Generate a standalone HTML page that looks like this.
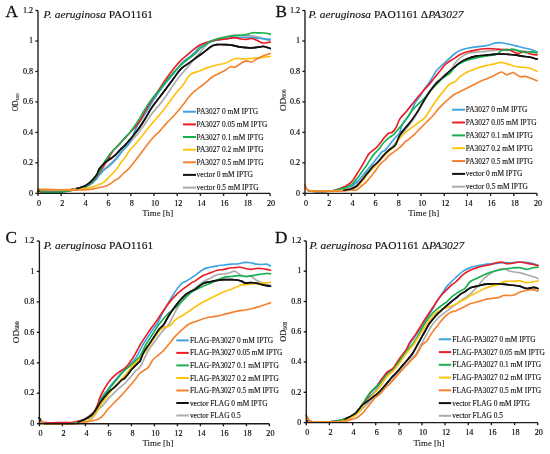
<!DOCTYPE html><html><head><meta charset="utf-8"><style>html,body{margin:0;padding:0;background:#fff;}svg{display:block;font-family:"Liberation Serif",serif;filter:blur(0.35px);}</style></head><body>
<svg width="550" height="454" viewBox="0 0 550 454">
<clipPath id="clipA"><rect x="76.3" y="0" width="300" height="454"/><rect x="33.0" y="0" width="6.5" height="454"/></clipPath>
<g fill="none" stroke-width="1.65" stroke-linejoin="round" stroke-linecap="round">
<path stroke="#111111" d="M38.00 191.00 C41.33 190.98 53.67 190.98 58.00 190.90 C62.33 190.82 62.00 190.70 64.00 190.50 C66.00 190.30 68.17 189.97 70.00 189.70 C71.83 189.43 73.33 189.22 75.00 188.90 C76.67 188.58 78.65 188.18 80.00 187.80 C81.35 187.42 82.07 187.05 83.10 186.60 C84.13 186.15 85.17 185.72 86.20 185.10 C87.23 184.48 88.28 183.73 89.30 182.90 C90.32 182.07 91.28 181.18 92.30 180.10 C93.32 179.02 94.57 177.48 95.40 176.40 C96.23 175.32 96.78 174.57 97.30 173.60 C97.82 172.63 98.05 171.52 98.50 170.60 C98.95 169.68 98.92 169.43 100.00 168.10 C101.08 166.77 103.71 163.86 105.00 162.63 C106.29 161.40 106.84 161.35 107.75 160.70 C108.67 160.06 109.59 159.46 110.51 158.77 C111.43 158.09 112.35 157.30 113.26 156.57 C114.18 155.84 115.10 155.24 116.02 154.37 C116.94 153.49 117.86 152.35 118.77 151.34 C119.69 150.33 120.61 149.18 121.53 148.31 C122.45 147.43 123.16 147.24 124.28 146.10 C125.41 144.97 127.33 142.60 128.28 141.50 C129.24 140.40 128.50 141.34 130.00 139.52 C131.50 137.71 134.85 133.91 137.27 130.61 C139.70 127.30 142.12 123.54 144.55 119.70 C146.97 115.86 149.39 111.21 151.82 107.58 C154.24 103.94 156.67 101.11 159.09 97.88 C161.52 94.65 163.94 91.41 166.36 88.18 C168.79 84.95 171.21 81.72 173.64 78.48 C176.06 75.25 178.18 71.48 180.91 68.79 C183.64 66.10 187.31 64.29 190.00 62.33 C192.69 60.37 194.56 58.86 197.05 57.04 C199.55 55.21 202.64 53.16 204.99 51.39 C207.34 49.63 209.25 47.57 211.16 46.46 C213.07 45.34 214.10 44.99 216.46 44.69 C218.81 44.40 222.33 44.54 225.27 44.69 C228.21 44.84 231.74 45.22 234.09 45.57 C236.44 45.93 236.44 46.43 239.38 46.81 C242.32 47.19 248.20 47.87 251.73 47.87 C255.26 47.87 258.49 47.04 260.55 46.81 C262.60 46.57 262.46 46.16 264.07 46.46 C265.69 46.75 269.22 48.22 270.25 48.57"/>
<path stroke="#ababab" d="M38.00 190.82 C41.33 190.82 53.67 190.84 58.00 190.80 C62.33 190.76 62.00 190.73 64.00 190.60 C66.00 190.47 68.17 190.23 70.00 190.00 C71.83 189.77 73.33 189.50 75.00 189.20 C76.67 188.90 78.65 188.55 80.00 188.20 C81.35 187.85 82.07 187.47 83.10 187.10 C84.13 186.73 84.67 186.93 86.20 186.00 C87.73 185.07 90.50 183.17 92.30 181.50 C94.10 179.83 95.72 177.58 97.00 176.00 C98.28 174.42 98.67 173.31 100.00 172.00 C101.33 170.69 103.25 169.52 105.00 168.14 C106.75 166.76 108.67 165.43 110.51 163.73 C112.35 162.03 114.18 160.11 116.02 157.95 C117.86 155.79 120.03 152.58 121.53 150.79 C123.03 148.99 123.59 148.64 125.00 147.20 C126.41 145.77 127.95 144.32 130.00 142.16 C132.05 140.00 134.85 137.18 137.27 134.24 C139.70 131.31 142.12 127.98 144.55 124.55 C146.97 121.11 149.39 116.87 151.82 113.64 C154.24 110.40 156.67 108.18 159.09 105.15 C161.52 102.12 163.94 98.89 166.36 95.45 C168.79 92.02 171.21 87.98 173.64 84.55 C176.06 81.11 178.48 77.88 180.91 74.85 C183.33 71.82 185.76 69.19 188.18 66.36 C190.61 63.54 192.21 61.64 195.45 57.88 C198.70 54.12 204.14 46.89 207.64 43.81 C211.14 40.73 213.52 40.58 216.46 39.40 C219.39 38.22 222.33 37.49 225.27 36.75 C228.21 36.02 231.15 35.20 234.09 34.99 C237.03 34.79 239.97 35.37 242.91 35.52 C245.85 35.67 248.79 35.52 251.73 35.87 C254.67 36.23 257.46 36.81 260.55 37.64 C263.63 38.46 268.63 40.28 270.25 40.81"/>
<path stroke="#3ea3e2" d="M38.00 191.00 C41.33 191.00 53.67 191.02 58.00 191.00 C62.33 190.98 62.00 191.00 64.00 190.90 C66.00 190.80 68.17 190.60 70.00 190.40 C71.83 190.20 73.33 190.00 75.00 189.70 C76.67 189.40 78.65 188.92 80.00 188.60 C81.35 188.28 82.07 188.07 83.10 187.80 C84.13 187.53 84.67 187.80 86.20 187.00 C87.73 186.20 90.67 184.25 92.30 183.00 C93.93 181.75 94.97 180.65 96.00 179.50 C97.03 178.35 97.83 176.97 98.50 176.10 C99.17 175.23 98.92 175.44 100.00 174.30 C101.08 173.16 103.25 170.82 105.00 169.24 C106.75 167.66 108.67 166.49 110.51 164.83 C112.35 163.18 114.18 161.44 116.02 159.33 C117.86 157.21 120.03 154.00 121.53 152.16 C123.03 150.33 123.59 149.97 125.00 148.31 C126.41 146.64 127.95 145.92 130.00 142.16 C132.05 138.40 134.85 130.31 137.27 125.76 C139.70 121.21 142.12 118.69 144.55 114.85 C146.97 111.01 149.39 106.57 151.82 102.73 C154.24 98.89 156.67 95.25 159.09 91.82 C161.52 88.38 163.94 85.15 166.36 82.12 C168.79 79.09 171.21 76.67 173.64 73.64 C176.06 70.61 178.48 66.57 180.91 63.94 C183.33 61.31 185.76 59.90 188.18 57.88 C190.61 55.86 193.68 53.58 195.45 51.82 C197.23 50.06 196.79 48.82 198.82 47.34 C200.85 45.86 204.70 44.10 207.64 42.93 C210.58 41.75 213.52 40.93 216.46 40.28 C219.39 39.64 222.33 39.49 225.27 39.05 C228.21 38.61 231.15 37.93 234.09 37.64 C237.03 37.34 239.97 37.28 242.91 37.28 C245.85 37.28 248.79 37.43 251.73 37.64 C254.67 37.84 257.46 38.22 260.55 38.52 C263.63 38.81 268.63 39.25 270.25 39.40"/>
<path stroke="#ec1c24" d="M38.00 191.36 C38.91 191.48 40.12 191.95 43.45 192.09 C46.79 192.23 54.58 192.28 58.00 192.20 C61.42 192.12 62.00 191.85 64.00 191.60 C66.00 191.35 68.17 191.02 70.00 190.70 C71.83 190.38 73.33 190.07 75.00 189.70 C76.67 189.33 78.65 188.87 80.00 188.50 C81.35 188.13 82.07 187.87 83.10 187.50 C84.13 187.13 85.17 186.87 86.20 186.30 C87.23 185.73 88.28 184.87 89.30 184.10 C90.32 183.33 91.28 182.67 92.30 181.70 C93.32 180.73 94.47 179.43 95.40 178.30 C96.33 177.17 97.13 175.98 97.90 174.90 C98.67 173.82 98.82 173.62 100.00 171.80 C101.18 169.98 103.71 166.00 105.00 164.01 C106.29 162.02 106.84 161.44 107.75 159.88 C108.67 158.31 109.59 156.20 110.51 154.64 C111.43 153.08 112.35 151.70 113.26 150.51 C114.18 149.32 112.02 151.81 116.02 147.48 C120.02 143.15 132.52 130.39 137.27 124.55 C142.03 118.70 142.12 116.46 144.55 112.42 C146.97 108.38 149.39 104.14 151.82 100.30 C154.24 96.46 156.67 93.03 159.09 89.39 C161.52 85.76 163.94 81.92 166.36 78.48 C168.79 75.05 171.21 71.82 173.64 68.79 C176.06 65.76 178.18 63.00 180.91 60.30 C183.64 57.61 187.02 55.08 190.00 52.63 C192.98 50.17 195.88 47.34 198.82 45.57 C201.76 43.81 204.70 42.99 207.64 42.05 C210.58 41.11 213.52 40.43 216.46 39.93 C219.39 39.43 222.33 39.43 225.27 39.05 C228.21 38.67 231.45 37.64 234.09 37.64 C236.74 37.64 239.09 38.75 241.15 39.05 C243.20 39.34 244.67 39.49 246.44 39.40 C248.20 39.31 249.96 38.37 251.73 38.52 C253.49 38.67 255.26 39.55 257.02 40.28 C258.78 41.02 260.55 42.55 262.31 42.93 C264.07 43.31 266.28 42.72 267.60 42.57 C268.92 42.43 269.81 42.13 270.25 42.05"/>
<path stroke="#17b04f" d="M38.00 188.64 C38.91 189.21 40.12 191.50 43.45 192.09 C46.79 192.68 54.58 192.27 58.00 192.20 C61.42 192.13 62.00 191.95 64.00 191.70 C66.00 191.45 68.17 191.05 70.00 190.70 C71.83 190.35 73.33 189.98 75.00 189.60 C76.67 189.22 78.65 188.77 80.00 188.40 C81.35 188.03 82.07 187.77 83.10 187.40 C84.13 187.03 84.67 187.18 86.20 186.20 C87.73 185.22 90.50 183.28 92.30 181.50 C94.10 179.72 95.72 177.28 97.00 175.50 C98.28 173.72 98.67 173.22 100.00 170.80 C101.33 168.38 103.71 163.26 105.00 160.98 C106.29 158.70 106.84 158.41 107.75 157.12 C108.67 155.84 109.59 154.41 110.51 153.26 C111.43 152.12 112.35 151.15 113.26 150.23 C114.18 149.32 115.10 148.63 116.02 147.75 C116.94 146.88 117.83 146.04 118.77 145.00 C119.72 143.96 120.54 142.85 121.68 141.50 C122.83 140.15 124.26 138.42 125.64 136.88 C127.03 135.34 128.06 134.72 130.00 132.26 C131.94 129.80 134.85 125.83 137.27 122.12 C139.70 118.41 142.12 113.84 144.55 110.00 C146.97 106.16 149.39 102.32 151.82 99.09 C154.24 95.86 156.67 93.64 159.09 90.61 C161.52 87.58 163.94 83.94 166.36 80.91 C168.79 77.88 171.21 75.05 173.64 72.42 C176.06 69.80 178.48 67.37 180.91 65.15 C183.33 62.93 185.78 61.03 188.18 59.09 C190.58 57.15 193.22 55.32 195.29 53.51 C197.36 51.70 198.52 49.98 200.58 48.22 C202.64 46.46 204.99 44.46 207.64 42.93 C210.28 41.40 213.52 39.99 216.46 39.05 C219.39 38.11 222.33 37.81 225.27 37.28 C228.21 36.75 231.15 36.26 234.09 35.87 C237.03 35.49 240.56 35.29 242.91 34.99 C245.26 34.70 246.58 34.49 248.20 34.11 C249.82 33.73 251.14 32.90 252.61 32.70 C254.08 32.49 255.11 32.82 257.02 32.87 C258.93 32.93 261.87 32.85 264.07 33.05 C266.28 33.26 269.22 33.93 270.25 34.11"/>
<path stroke="#fdc20e" d="M38.00 189.55 C41.33 189.59 53.67 189.77 58.00 189.80 C62.33 189.83 62.00 189.73 64.00 189.70 C66.00 189.67 68.17 189.65 70.00 189.60 C71.83 189.55 73.33 189.48 75.00 189.40 C76.67 189.32 78.65 189.20 80.00 189.10 C81.35 189.00 82.07 188.90 83.10 188.80 C84.13 188.70 85.17 188.67 86.20 188.50 C87.23 188.33 88.28 188.07 89.30 187.80 C90.32 187.53 91.28 187.20 92.30 186.90 C93.32 186.60 94.37 186.35 95.40 186.00 C96.43 185.65 97.73 185.12 98.50 184.80 C99.27 184.48 99.07 184.56 100.00 184.10 C100.93 183.64 102.80 183.01 104.09 182.06 C105.38 181.11 106.52 179.64 107.73 178.42 C108.94 177.21 109.98 176.19 111.36 174.79 C112.75 173.39 114.51 171.95 116.02 170.01 C117.53 168.08 118.93 165.24 120.43 163.18 C121.92 161.12 123.40 159.86 125.00 157.67 C126.60 155.49 127.55 153.18 130.00 150.08 C132.45 146.99 136.87 142.54 139.70 139.09 C142.53 135.64 144.55 132.42 146.97 129.39 C149.39 126.36 151.82 123.74 154.24 120.91 C156.67 118.08 159.09 115.45 161.52 112.42 C163.94 109.39 166.36 105.96 168.79 102.73 C171.21 99.49 173.64 96.06 176.06 93.03 C178.48 90.00 181.01 87.60 183.33 84.55 C185.66 81.49 187.42 76.91 190.00 74.67 C192.58 72.44 195.88 72.32 198.82 71.15 C201.76 69.97 204.70 68.65 207.64 67.62 C210.58 66.59 213.52 65.71 216.46 64.97 C219.39 64.24 222.63 64.09 225.27 63.21 C227.92 62.33 230.56 60.48 232.33 59.68 C234.09 58.89 234.09 58.59 235.86 58.45 C237.62 58.30 240.26 58.80 242.91 58.80 C245.56 58.80 248.79 58.65 251.73 58.45 C254.67 58.24 258.20 57.80 260.55 57.57 C262.90 57.33 264.22 57.21 265.84 57.04 C267.45 56.86 269.51 56.60 270.25 56.51"/>
<path stroke="#f5822f" d="M38.00 189.36 C41.33 189.44 53.67 189.73 58.00 189.80 C62.33 189.87 62.00 189.77 64.00 189.80 C66.00 189.83 68.17 189.97 70.00 190.00 C71.83 190.03 73.33 190.00 75.00 190.00 C76.67 190.00 78.65 190.02 80.00 190.00 C81.35 189.98 82.07 189.95 83.10 189.90 C84.13 189.85 84.67 189.83 86.20 189.70 C87.73 189.57 90.77 189.30 92.30 189.10 C93.83 188.90 94.37 188.72 95.40 188.50 C96.43 188.28 97.73 187.97 98.50 187.80 C99.27 187.63 98.87 187.75 100.00 187.50 C101.13 187.25 103.61 186.91 105.30 186.30 C106.99 185.70 108.54 184.89 110.15 183.88 C111.77 182.87 113.52 181.25 115.00 180.24 C116.48 179.23 117.49 179.09 119.04 177.81 C120.60 176.52 122.50 174.28 124.32 172.52 C126.15 170.76 125.42 172.82 130.00 167.24 C134.58 161.67 146.97 145.00 151.82 139.09 C156.67 133.19 156.67 134.44 159.09 131.82 C161.52 129.19 163.94 125.96 166.36 123.33 C168.79 120.71 171.21 118.69 173.64 116.06 C176.06 113.43 178.18 110.95 180.91 107.58 C183.64 104.21 187.60 98.68 190.00 95.84 C192.40 93.00 193.23 92.31 195.29 90.55 C197.35 88.78 200.29 86.87 202.35 85.26 C204.40 83.64 205.87 82.32 207.64 80.85 C209.40 79.38 210.87 77.76 212.93 76.44 C214.99 75.11 217.92 73.94 219.98 72.91 C222.04 71.88 223.51 71.29 225.27 70.26 C227.04 69.24 228.95 67.24 230.56 66.74 C232.18 66.24 233.21 67.85 234.97 67.27 C236.74 66.68 239.24 64.27 241.15 63.21 C243.06 62.15 244.67 61.12 246.44 60.92 C248.20 60.71 249.96 62.33 251.73 61.98 C253.49 61.62 255.26 59.77 257.02 58.80 C258.78 57.83 260.55 56.89 262.31 56.16 C264.07 55.42 266.28 54.83 267.60 54.39 C268.92 53.95 269.81 53.66 270.25 53.51"/>
<path stroke="#111111" clip-path="url(#clipA)" d="M38.00 191.00 C41.33 190.98 53.67 190.98 58.00 190.90 C62.33 190.82 62.00 190.70 64.00 190.50 C66.00 190.30 68.17 189.97 70.00 189.70 C71.83 189.43 73.33 189.22 75.00 188.90 C76.67 188.58 78.65 188.18 80.00 187.80 C81.35 187.42 82.07 187.05 83.10 186.60 C84.13 186.15 85.17 185.72 86.20 185.10 C87.23 184.48 88.28 183.73 89.30 182.90 C90.32 182.07 91.28 181.18 92.30 180.10 C93.32 179.02 94.57 177.48 95.40 176.40 C96.23 175.32 96.78 174.57 97.30 173.60 C97.82 172.63 98.05 171.52 98.50 170.60 C98.95 169.68 98.92 169.43 100.00 168.10 C101.08 166.77 103.71 163.86 105.00 162.63 C106.29 161.40 106.84 161.35 107.75 160.70 C108.67 160.06 109.59 159.46 110.51 158.77 C111.43 158.09 112.35 157.30 113.26 156.57 C114.18 155.84 115.10 155.24 116.02 154.37 C116.94 153.49 117.86 152.35 118.77 151.34 C119.69 150.33 120.61 149.18 121.53 148.31 C122.45 147.43 123.16 147.24 124.28 146.10 C125.41 144.97 127.33 142.60 128.28 141.50 C129.24 140.40 128.50 141.34 130.00 139.52 C131.50 137.71 134.85 133.91 137.27 130.61 C139.70 127.30 142.12 123.54 144.55 119.70 C146.97 115.86 149.39 111.21 151.82 107.58 C154.24 103.94 156.67 101.11 159.09 97.88 C161.52 94.65 163.94 91.41 166.36 88.18 C168.79 84.95 171.21 81.72 173.64 78.48 C176.06 75.25 178.18 71.48 180.91 68.79 C183.64 66.10 187.31 64.29 190.00 62.33 C192.69 60.37 194.56 58.86 197.05 57.04 C199.55 55.21 202.64 53.16 204.99 51.39 C207.34 49.63 209.25 47.57 211.16 46.46 C213.07 45.34 214.10 44.99 216.46 44.69 C218.81 44.40 222.33 44.54 225.27 44.69 C228.21 44.84 231.74 45.22 234.09 45.57 C236.44 45.93 236.44 46.43 239.38 46.81 C242.32 47.19 248.20 47.87 251.73 47.87 C255.26 47.87 258.49 47.04 260.55 46.81 C262.60 46.57 262.46 46.16 264.07 46.46 C265.69 46.75 269.22 48.22 270.25 48.57"/>
</g>
<g stroke="#1a1a1a" stroke-width="1.35" fill="none">
<path d="M38.0 10.5 V193.3 H270.0"/>
<path d="M35.4 193.3 H38.0"/>
<path d="M35.4 162.8 H38.0"/>
<path d="M35.4 132.4 H38.0"/>
<path d="M35.4 101.9 H38.0"/>
<path d="M35.4 71.4 H38.0"/>
<path d="M35.4 41.0 H38.0"/>
<path d="M35.4 10.5 H38.0"/>
<path d="M38.0 193.3 V195.9"/>
<path d="M61.2 193.3 V195.9"/>
<path d="M84.4 193.3 V195.9"/>
<path d="M107.6 193.3 V195.9"/>
<path d="M130.8 193.3 V195.9"/>
<path d="M154.0 193.3 V195.9"/>
<path d="M177.2 193.3 V195.9"/>
<path d="M200.4 193.3 V195.9"/>
<path d="M223.6 193.3 V195.9"/>
<path d="M246.8 193.3 V195.9"/>
<path d="M270.0 193.3 V195.9"/>
</g>
<g font-size="8.1" fill="#000" stroke="#000" stroke-width="0.15" text-anchor="end">
<text x="33.0" y="195.5">0</text>
<text x="33.0" y="165.0">0.2</text>
<text x="33.0" y="134.5">0.4</text>
<text x="33.0" y="104.0">0.6</text>
<text x="33.0" y="73.6">0.8</text>
<text x="33.0" y="43.1">1</text>
<text x="33.0" y="12.6">1.2</text>
</g>
<g font-size="8.1" fill="#000" stroke="#000" stroke-width="0.15" text-anchor="middle">
<text x="39.0" y="205.5">0</text>
<text x="62.2" y="205.5">2</text>
<text x="85.4" y="205.5">4</text>
<text x="108.6" y="205.5">6</text>
<text x="131.8" y="205.5">8</text>
<text x="155.0" y="205.5">10</text>
<text x="178.2" y="205.5">12</text>
<text x="201.4" y="205.5">14</text>
<text x="224.6" y="205.5">16</text>
<text x="247.8" y="205.5">18</text>
<text x="271.0" y="205.5">20</text>
</g>
<text x="157.7" y="216.0" font-size="8.9" fill="#111" stroke="#111" stroke-width="0.08" text-anchor="middle">Time [h]</text>
<text transform="translate(18.2 102.3) rotate(-90)" font-size="7.60" fill="#111" stroke="#111" stroke-width="0.1" text-anchor="middle">OD<tspan font-size="4.79" dy="0.38">600</tspan></text>
<text transform="translate(5.6 16.6) scale(1 1.03)" font-size="17.2" fill="#111" stroke="#111" stroke-width="0.25">A</text>
<text x="43.5" y="18.2" font-size="11.4" fill="#111" stroke="#111" stroke-width="0.15"><tspan font-style="italic">P. aeruginosa</tspan> PAO1161</text>
<g font-size="7.4" fill="#111" stroke="#111" stroke-width="0.12">
<path d="M183.0 111.7 H196.0" stroke="#3ea3e2" stroke-width="2"/>
<text x="196.5" y="114.2">PA3027 0 mM IPTG</text>
<path d="M183.0 124.4 H196.0" stroke="#ec1c24" stroke-width="2"/>
<text x="196.5" y="126.9">PA3027 0.05 mM IPTG</text>
<path d="M183.0 137.0 H196.0" stroke="#17b04f" stroke-width="2"/>
<text x="196.5" y="139.5">PA3027 0.1 mM IPTG</text>
<path d="M183.0 149.7 H196.0" stroke="#fdc20e" stroke-width="2"/>
<text x="196.5" y="152.2">PA3027 0.2 mM IPTG</text>
<path d="M183.0 162.3 H196.0" stroke="#f5822f" stroke-width="2"/>
<text x="196.5" y="164.8">PA3027 0.5 mM IPTG</text>
<path d="M183.0 174.9 H196.0" stroke="#111111" stroke-width="2"/>
<text x="196.5" y="177.4">vector 0 mM IPTG</text>
<path d="M183.0 187.6 H196.0" stroke="#ababab" stroke-width="2"/>
<text x="196.5" y="190.1">vector 0.5 mM IPTG</text>
</g>
<clipPath id="clipB"><rect x="343.3" y="0" width="300" height="454"/><rect x="300.0" y="0" width="6.5" height="454"/></clipPath>
<g fill="none" stroke-width="1.65" stroke-linejoin="round" stroke-linecap="round">
<path stroke="#111111" d="M308.64 191.00 C311.06 191.06 317.73 191.45 323.18 191.36 C328.64 191.27 336.72 190.84 341.36 190.45 C346.00 190.07 348.49 189.73 351.02 189.04 C353.55 188.34 355.09 187.33 356.53 186.28 C357.96 185.24 358.60 183.93 359.63 182.77 C360.66 181.60 361.55 180.71 362.71 179.30 C363.87 177.88 365.28 175.89 366.57 174.29 C367.85 172.68 369.26 171.07 370.42 169.66 C371.58 168.25 372.48 166.83 373.50 165.81 C374.53 164.78 375.43 164.58 376.59 163.49 C377.74 162.40 379.16 160.73 380.44 159.25 C381.73 157.77 382.93 156.09 384.30 154.63 C385.66 153.16 387.31 151.60 388.64 150.45 C389.97 149.30 391.06 148.79 392.27 147.73 C393.48 146.67 394.62 146.24 395.91 144.09 C397.20 141.94 398.29 137.65 400.00 134.81 C401.71 131.98 404.12 129.67 406.17 127.10 C408.23 124.53 410.29 122.21 412.35 119.38 C414.40 116.55 416.46 113.47 418.52 110.12 C420.58 106.78 422.63 102.66 424.69 99.32 C426.75 95.98 428.81 92.89 430.86 90.06 C432.92 87.23 435.24 84.27 437.04 82.35 C438.84 80.42 439.38 80.55 441.67 78.49 C443.95 76.43 448.54 71.96 450.76 70.00 C452.98 68.04 453.41 68.02 455.00 66.74 C456.59 65.46 458.23 63.65 460.29 62.33 C462.35 61.01 464.70 59.83 467.35 58.80 C469.99 57.77 473.22 56.74 476.16 56.16 C479.10 55.57 482.04 55.57 484.98 55.27 C487.92 54.98 491.16 54.60 493.80 54.39 C496.45 54.19 498.50 54.04 500.86 54.04 C503.21 54.04 505.56 54.24 507.91 54.39 C510.26 54.54 512.61 54.63 514.96 54.92 C517.32 55.21 519.67 55.80 522.02 56.16 C524.37 56.51 526.58 56.54 529.07 57.04 C531.57 57.54 535.69 58.80 537.01 59.15"/>
<path stroke="#ababab" d="M308.64 191.00 C311.06 191.06 317.73 191.45 323.18 191.36 C328.64 191.27 336.82 191.06 341.36 190.45 C345.91 189.85 348.03 188.85 350.45 187.73 C352.88 186.61 354.38 184.68 355.91 183.73 C357.44 182.77 358.49 182.93 359.63 182.00 C360.76 181.07 361.55 179.62 362.71 178.14 C363.87 176.66 365.28 174.74 366.57 173.13 C367.85 171.52 369.14 169.85 370.42 168.50 C371.71 167.15 372.99 166.32 374.28 165.03 C375.56 163.75 376.85 162.27 378.13 160.79 C379.42 159.32 380.84 157.29 381.99 156.17 C383.13 155.05 383.29 155.65 385.00 154.09 C386.71 152.53 389.77 149.77 392.27 146.82 C394.77 143.86 397.68 139.39 400.00 136.36 C402.32 133.33 404.12 131.21 406.17 128.64 C408.23 126.07 410.55 123.50 412.35 120.93 C414.15 118.35 415.43 115.78 416.98 113.21 C418.52 110.64 419.80 108.58 421.60 105.49 C423.41 102.41 425.72 97.78 427.78 94.69 C429.84 91.60 431.89 89.55 433.95 86.98 C436.01 84.40 438.32 81.32 440.12 79.26 C441.92 77.20 443.11 75.92 444.75 74.63 C446.40 73.34 448.29 73.45 450.00 71.54 C451.71 69.64 453.28 65.48 455.00 63.21 C456.72 60.94 458.23 59.54 460.29 57.92 C462.35 56.30 464.70 54.48 467.35 53.51 C469.99 52.54 473.22 52.45 476.16 52.10 C479.10 51.75 482.04 51.69 484.98 51.39 C487.92 51.10 491.16 50.63 493.80 50.34 C496.45 50.04 498.50 49.75 500.86 49.63 C503.21 49.51 505.56 49.51 507.91 49.63 C510.26 49.75 512.61 50.04 514.96 50.34 C517.32 50.63 519.67 51.16 522.02 51.39 C524.37 51.63 526.58 51.54 529.07 51.75 C531.57 51.95 535.69 52.48 537.01 52.63"/>
<path stroke="#3ea3e2" d="M308.64 191.00 C311.06 191.06 317.73 191.55 323.18 191.36 C328.64 191.18 337.09 190.39 341.36 189.91 C345.64 189.43 346.54 189.61 348.82 188.48 C351.09 187.36 353.33 184.56 355.00 183.15 C356.67 181.75 357.57 181.35 358.86 180.07 C360.14 178.78 361.43 176.99 362.71 175.44 C364.00 173.90 365.28 172.36 366.57 170.82 C367.85 169.28 369.14 167.73 370.42 166.19 C371.71 164.65 372.99 163.17 374.28 161.57 C375.56 159.96 376.85 158.16 378.13 156.55 C379.42 154.95 380.84 152.94 381.99 151.93 C383.13 150.91 383.89 151.46 385.00 150.45 C386.11 149.45 387.42 147.42 388.64 145.91 C389.85 144.39 391.06 142.88 392.27 141.36 C393.48 139.85 394.70 138.18 395.91 136.82 C397.12 135.45 398.48 135.23 399.55 133.18 C400.61 131.14 400.65 127.62 402.27 124.55 C403.89 121.47 407.58 117.41 409.26 114.75 C410.94 112.09 411.32 110.64 412.35 108.58 C413.37 106.52 414.15 104.47 415.43 102.41 C416.72 100.35 418.52 98.55 420.06 96.23 C421.60 93.92 423.15 90.83 424.69 88.52 C426.23 86.20 427.78 84.66 429.32 82.35 C430.86 80.03 432.66 76.69 433.95 74.63 C435.24 72.57 435.04 72.19 437.04 70.00 C439.03 67.81 442.92 64.26 445.91 61.52 C448.90 58.77 452.60 55.37 455.00 53.51 C457.40 51.65 458.23 51.22 460.29 50.34 C462.35 49.45 464.70 48.81 467.35 48.22 C469.99 47.63 473.22 47.19 476.16 46.81 C479.10 46.43 482.63 46.28 484.98 45.93 C487.33 45.57 488.80 45.13 490.27 44.69 C491.74 44.25 492.33 43.63 493.80 43.28 C495.27 42.93 497.33 42.57 499.09 42.57 C500.86 42.57 502.33 42.93 504.38 43.28 C506.44 43.63 509.09 44.16 511.44 44.69 C513.79 45.22 516.14 45.87 518.49 46.46 C520.84 47.04 523.20 47.63 525.55 48.22 C527.90 48.81 530.69 49.34 532.60 49.98 C534.51 50.63 536.28 51.75 537.01 52.10"/>
<path stroke="#ec1c24" d="M308.64 191.00 C311.06 191.06 319.24 191.36 323.18 191.36 C327.12 191.36 329.47 191.48 332.27 191.00 C335.08 190.52 337.79 189.27 340.00 188.48 C342.21 187.70 343.67 187.29 345.51 186.28 C347.35 185.27 349.44 183.97 351.02 182.42 C352.60 180.87 353.69 178.92 355.00 176.99 C356.31 175.05 357.57 172.87 358.86 170.82 C360.14 168.76 361.43 166.83 362.71 164.65 C364.00 162.46 365.54 159.51 366.57 157.71 C367.59 155.91 367.98 154.95 368.88 153.86 C369.78 152.76 370.71 152.18 371.96 151.16 C373.21 150.13 375.02 149.02 376.36 147.71 C377.70 146.41 378.56 145.12 380.00 143.31 C381.44 141.49 383.56 138.51 385.00 136.82 C386.44 135.13 387.42 133.94 388.64 133.18 C389.85 132.42 391.06 133.18 392.27 132.27 C393.48 131.36 394.62 130.00 395.91 127.73 C397.20 125.45 398.29 121.29 400.00 118.61 C401.71 115.93 404.12 114.11 406.17 111.67 C408.23 109.22 410.29 106.52 412.35 103.95 C414.40 101.38 416.46 98.68 418.52 96.23 C420.58 93.79 422.63 91.60 424.69 89.29 C426.75 86.98 428.81 84.79 430.86 82.35 C432.92 79.90 435.49 76.56 437.04 74.63 C438.58 72.70 438.64 72.55 440.12 70.77 C441.60 68.99 443.43 66.08 445.91 63.94 C448.39 61.80 452.60 59.51 455.00 57.92 C457.40 56.33 458.23 55.42 460.29 54.39 C462.35 53.36 464.70 52.48 467.35 51.75 C469.99 51.01 473.22 50.48 476.16 49.98 C479.10 49.48 482.04 48.95 484.98 48.75 C487.92 48.54 491.16 48.63 493.80 48.75 C496.45 48.87 498.50 49.31 500.86 49.45 C503.21 49.60 506.15 49.39 507.91 49.63 C509.67 49.86 510.26 50.36 511.44 50.86 C512.61 51.36 513.79 52.19 514.96 52.63 C516.14 53.07 517.32 53.60 518.49 53.51 C519.67 53.42 520.84 52.39 522.02 52.10 C523.20 51.80 524.37 51.51 525.55 51.75 C526.72 51.98 527.90 53.07 529.07 53.51 C530.25 53.95 531.28 54.16 532.60 54.39 C533.92 54.63 536.28 54.83 537.01 54.92"/>
<path stroke="#17b04f" d="M308.64 191.00 C311.06 191.06 319.24 191.36 323.18 191.36 C327.12 191.36 329.47 191.39 332.27 191.00 C335.08 190.61 337.61 189.64 340.00 189.04 C342.39 188.43 344.59 188.21 346.61 187.38 C348.63 186.56 350.72 185.17 352.12 184.08 C353.52 182.99 353.88 182.15 355.00 180.84 C356.12 179.53 357.57 177.88 358.86 176.21 C360.14 174.54 361.43 172.62 362.71 170.82 C364.00 169.02 365.28 167.35 366.57 165.42 C367.85 163.49 369.14 161.18 370.42 159.25 C371.71 157.32 373.12 155.27 374.28 153.86 C375.43 152.44 376.41 151.79 377.36 150.77 C378.31 149.75 379.03 148.98 380.00 147.71 C380.97 146.45 382.05 144.54 383.18 143.18 C384.32 141.82 385.61 140.61 386.82 139.55 C388.03 138.48 389.24 137.73 390.45 136.82 C391.67 135.91 392.50 135.71 394.09 134.09 C395.68 132.47 397.99 129.55 400.00 127.10 C402.01 124.65 404.12 122.21 406.17 119.38 C408.23 116.55 410.29 112.70 412.35 110.12 C414.40 107.55 416.46 106.01 418.52 103.95 C420.58 101.89 422.63 100.09 424.69 97.78 C426.75 95.46 428.81 92.38 430.86 90.06 C432.92 87.75 434.98 85.95 437.04 83.89 C439.09 81.83 441.05 79.52 443.21 77.72 C445.37 75.92 448.03 74.92 450.00 73.09 C451.97 71.26 453.28 68.38 455.00 66.74 C456.72 65.09 458.23 64.30 460.29 63.21 C462.35 62.12 464.70 61.09 467.35 60.21 C469.99 59.33 473.22 58.59 476.16 57.92 C479.10 57.24 482.04 56.65 484.98 56.16 C487.92 55.66 491.74 55.30 493.80 54.92 C495.86 54.54 496.15 54.54 497.33 53.86 C498.50 53.19 499.68 51.51 500.86 50.86 C502.03 50.22 503.21 50.07 504.38 49.98 C505.56 49.89 506.73 50.48 507.91 50.34 C509.09 50.19 510.26 49.22 511.44 49.10 C512.61 48.98 513.79 49.34 514.96 49.63 C516.14 49.92 517.32 50.57 518.49 50.86 C519.67 51.16 520.84 51.10 522.02 51.39 C523.20 51.69 524.37 52.57 525.55 52.63 C526.72 52.69 527.90 51.83 529.07 51.75 C530.25 51.66 531.28 51.95 532.60 52.10 C533.92 52.25 536.28 52.54 537.01 52.63"/>
<path stroke="#fdc20e" d="M305.00 185.00 C305.61 185.91 305.61 189.45 308.64 190.45 C311.67 191.45 317.73 191.00 323.18 191.00 C328.64 191.00 336.82 190.85 341.36 190.45 C345.91 190.06 348.48 188.87 350.45 188.64 C352.43 188.40 351.82 189.64 353.22 189.04 C354.62 188.43 357.27 186.37 358.86 185.00 C360.44 183.64 361.43 182.43 362.71 180.84 C364.00 179.25 365.28 177.11 366.57 175.44 C367.85 173.77 369.26 172.10 370.42 170.82 C371.58 169.53 372.73 168.44 373.50 167.73 C374.28 167.03 374.04 167.79 375.05 166.58 C376.05 165.36 378.19 162.08 379.55 160.45 C380.90 158.83 381.97 158.03 383.18 156.82 C384.39 155.61 385.61 154.39 386.82 153.18 C388.03 151.97 389.24 150.76 390.45 149.55 C391.67 148.33 392.50 147.85 394.09 145.91 C395.68 143.97 397.99 140.26 400.00 137.90 C402.01 135.54 404.12 133.53 406.17 131.73 C408.23 129.93 410.29 128.64 412.35 127.10 C414.40 125.56 416.46 124.01 418.52 122.47 C420.58 120.93 422.63 120.15 424.69 117.84 C426.75 115.52 428.81 111.67 430.86 108.58 C432.92 105.49 434.98 102.15 437.04 99.32 C439.09 96.49 441.05 94.18 443.21 91.60 C445.37 89.03 448.03 85.53 450.00 83.89 C451.97 82.24 453.28 82.97 455.00 81.73 C456.72 80.49 458.23 78.05 460.29 76.44 C462.35 74.82 464.70 73.35 467.35 72.03 C469.99 70.71 473.22 69.53 476.16 68.50 C479.10 67.47 482.04 66.59 484.98 65.86 C487.92 65.12 491.16 64.68 493.80 64.09 C496.45 63.50 498.50 62.33 500.86 62.33 C503.21 62.33 505.56 63.45 507.91 64.09 C510.26 64.74 512.61 65.68 514.96 66.21 C517.32 66.74 519.67 66.97 522.02 67.27 C524.37 67.56 526.58 67.33 529.07 67.97 C531.57 68.62 535.69 70.62 537.01 71.15"/>
<path stroke="#f5822f" d="M305.00 185.00 C305.61 185.91 305.61 189.39 308.64 190.45 C311.67 191.52 317.73 191.27 323.18 191.36 C328.64 191.45 336.82 191.24 341.36 191.00 C345.91 190.76 347.93 190.07 350.45 189.91 C352.98 189.75 354.49 190.85 356.53 190.03 C358.57 189.21 361.04 186.41 362.71 185.00 C364.38 183.60 365.28 182.95 366.57 181.61 C367.85 180.27 369.14 178.53 370.42 176.99 C371.71 175.44 372.99 174.03 374.28 172.36 C375.56 170.69 376.85 168.63 378.13 166.96 C379.42 165.29 380.84 163.49 381.99 162.34 C383.13 161.18 383.88 161.09 384.99 160.02 C386.10 158.95 387.42 157.05 388.64 155.91 C389.85 154.77 391.06 154.09 392.27 153.18 C393.48 152.27 394.70 151.36 395.91 150.45 C397.12 149.55 398.33 148.79 399.55 147.73 C400.76 146.67 402.27 145.06 403.18 144.09 C404.09 143.12 404.24 142.58 405.00 141.91 C405.76 141.24 406.23 141.24 407.72 140.06 C409.20 138.88 411.83 136.72 413.89 134.81 C415.95 132.91 418.00 130.70 420.06 128.64 C422.12 126.58 424.18 124.53 426.23 122.47 C428.29 120.41 430.35 118.61 432.41 116.30 C434.47 113.98 436.52 110.90 438.58 108.58 C440.64 106.27 442.85 104.21 444.75 102.41 C446.66 100.61 448.29 99.17 450.00 97.78 C451.71 96.39 452.70 95.43 455.00 94.07 C457.30 92.72 460.88 91.13 463.82 89.66 C466.76 88.20 469.70 86.73 472.64 85.26 C475.58 83.79 478.52 82.17 481.46 80.85 C484.39 79.52 487.63 78.50 490.27 77.32 C492.92 76.14 495.42 74.67 497.33 73.79 C499.24 72.91 500.27 71.88 501.74 72.03 C503.21 72.18 504.82 74.38 506.15 74.67 C507.47 74.97 508.50 74.14 509.67 73.79 C510.85 73.44 512.03 72.41 513.20 72.56 C514.38 72.70 515.55 73.97 516.73 74.67 C517.90 75.38 518.79 76.50 520.26 76.79 C521.73 77.08 523.78 76.20 525.55 76.44 C527.31 76.67 528.93 77.47 530.84 78.20 C532.75 78.94 535.98 80.41 537.01 80.85"/>
<path stroke="#111111" clip-path="url(#clipB)" d="M308.64 191.00 C311.06 191.06 317.73 191.45 323.18 191.36 C328.64 191.27 336.72 190.84 341.36 190.45 C346.00 190.07 348.49 189.73 351.02 189.04 C353.55 188.34 355.09 187.33 356.53 186.28 C357.96 185.24 358.60 183.93 359.63 182.77 C360.66 181.60 361.55 180.71 362.71 179.30 C363.87 177.88 365.28 175.89 366.57 174.29 C367.85 172.68 369.26 171.07 370.42 169.66 C371.58 168.25 372.48 166.83 373.50 165.81 C374.53 164.78 375.43 164.58 376.59 163.49 C377.74 162.40 379.16 160.73 380.44 159.25 C381.73 157.77 382.93 156.09 384.30 154.63 C385.66 153.16 387.31 151.60 388.64 150.45 C389.97 149.30 391.06 148.79 392.27 147.73 C393.48 146.67 394.62 146.24 395.91 144.09 C397.20 141.94 398.29 137.65 400.00 134.81 C401.71 131.98 404.12 129.67 406.17 127.10 C408.23 124.53 410.29 122.21 412.35 119.38 C414.40 116.55 416.46 113.47 418.52 110.12 C420.58 106.78 422.63 102.66 424.69 99.32 C426.75 95.98 428.81 92.89 430.86 90.06 C432.92 87.23 435.24 84.27 437.04 82.35 C438.84 80.42 439.38 80.55 441.67 78.49 C443.95 76.43 448.54 71.96 450.76 70.00 C452.98 68.04 453.41 68.02 455.00 66.74 C456.59 65.46 458.23 63.65 460.29 62.33 C462.35 61.01 464.70 59.83 467.35 58.80 C469.99 57.77 473.22 56.74 476.16 56.16 C479.10 55.57 482.04 55.57 484.98 55.27 C487.92 54.98 491.16 54.60 493.80 54.39 C496.45 54.19 498.50 54.04 500.86 54.04 C503.21 54.04 505.56 54.24 507.91 54.39 C510.26 54.54 512.61 54.63 514.96 54.92 C517.32 55.21 519.67 55.80 522.02 56.16 C524.37 56.51 526.58 56.54 529.07 57.04 C531.57 57.54 535.69 58.80 537.01 59.15"/>
</g>
<g stroke="#1a1a1a" stroke-width="1.35" fill="none">
<path d="M305.0 10.5 V193.3 H537.0"/>
<path d="M302.4 193.3 H305.0"/>
<path d="M302.4 162.8 H305.0"/>
<path d="M302.4 132.4 H305.0"/>
<path d="M302.4 101.9 H305.0"/>
<path d="M302.4 71.4 H305.0"/>
<path d="M302.4 41.0 H305.0"/>
<path d="M302.4 10.5 H305.0"/>
<path d="M305.0 193.3 V195.9"/>
<path d="M328.2 193.3 V195.9"/>
<path d="M351.4 193.3 V195.9"/>
<path d="M374.6 193.3 V195.9"/>
<path d="M397.8 193.3 V195.9"/>
<path d="M421.0 193.3 V195.9"/>
<path d="M444.2 193.3 V195.9"/>
<path d="M467.4 193.3 V195.9"/>
<path d="M490.6 193.3 V195.9"/>
<path d="M513.8 193.3 V195.9"/>
<path d="M537.0 193.3 V195.9"/>
</g>
<g font-size="8.1" fill="#000" stroke="#000" stroke-width="0.15" text-anchor="end">
<text x="300.0" y="195.5">0</text>
<text x="300.0" y="165.0">0.2</text>
<text x="300.0" y="134.5">0.4</text>
<text x="300.0" y="104.0">0.6</text>
<text x="300.0" y="73.6">0.8</text>
<text x="300.0" y="43.1">1</text>
<text x="300.0" y="12.6">1.2</text>
</g>
<g font-size="8.1" fill="#000" stroke="#000" stroke-width="0.15" text-anchor="middle">
<text x="306.0" y="205.5">0</text>
<text x="329.2" y="205.5">2</text>
<text x="352.4" y="205.5">4</text>
<text x="375.6" y="205.5">6</text>
<text x="398.8" y="205.5">8</text>
<text x="422.0" y="205.5">10</text>
<text x="445.2" y="205.5">12</text>
<text x="468.4" y="205.5">14</text>
<text x="491.6" y="205.5">16</text>
<text x="514.8" y="205.5">18</text>
<text x="538.0" y="205.5">20</text>
</g>
<text x="423.7" y="216.0" font-size="8.9" fill="#111" stroke="#111" stroke-width="0.08" text-anchor="middle">Time [h]</text>
<text transform="translate(286.0 100.2) rotate(-90)" font-size="9.00" fill="#111" stroke="#111" stroke-width="0.1" text-anchor="middle">OD<tspan font-size="5.67" dy="0.45">600</tspan></text>
<text transform="translate(275.6 16.5) scale(1 1.03)" font-size="17.2" fill="#111" stroke="#111" stroke-width="0.25">B</text>
<text x="308.6" y="18.2" font-size="11.4" fill="#111" stroke="#111" stroke-width="0.15"><tspan font-style="italic">P. aeruginosa</tspan> PAO1161 Δ<tspan font-style="italic">PA3027</tspan></text>
<g font-size="7.4" fill="#111" stroke="#111" stroke-width="0.12">
<path d="M452.1 109.7 H465.1" stroke="#3ea3e2" stroke-width="2"/>
<text x="465.8" y="112.2">PA3027 0 mM IPTG</text>
<path d="M452.1 122.5 H465.1" stroke="#ec1c24" stroke-width="2"/>
<text x="465.8" y="125.0">PA3027 0.05 mM IPTG</text>
<path d="M452.1 135.4 H465.1" stroke="#17b04f" stroke-width="2"/>
<text x="465.8" y="137.9">PA3027 0.1 mM IPTG</text>
<path d="M452.1 148.2 H465.1" stroke="#fdc20e" stroke-width="2"/>
<text x="465.8" y="150.7">PA3027 0.2 mM IPTG</text>
<path d="M452.1 161.0 H465.1" stroke="#f5822f" stroke-width="2"/>
<text x="465.8" y="163.5">PA3027 0.5 mM IPTG</text>
<path d="M452.1 173.9 H465.1" stroke="#111111" stroke-width="2"/>
<text x="465.8" y="176.4">vector 0 mM IPTG</text>
<path d="M452.1 186.7 H465.1" stroke="#ababab" stroke-width="2"/>
<text x="465.8" y="189.2">vector 0.5 mM IPTG</text>
</g>
<clipPath id="clipC"><rect x="77.3" y="0" width="300" height="454"/><rect x="34.4" y="0" width="6.5" height="454"/></clipPath>
<g fill="none" stroke-width="1.65" stroke-linejoin="round" stroke-linecap="round">
<path stroke="#111111" d="M39.00 417.73 C39.91 418.70 41.42 422.58 44.45 423.55 C47.48 424.52 52.64 423.58 57.18 423.55 C61.73 423.52 68.70 423.45 71.73 423.36 C74.76 423.27 73.24 423.64 75.36 423.00 C77.48 422.36 81.73 420.88 84.45 419.55 C87.18 418.21 89.91 416.52 91.73 415.00 C93.55 413.48 93.98 412.47 95.36 410.45 C96.74 408.43 98.62 404.95 100.00 402.88 C101.38 400.81 102.42 399.55 103.64 398.03 C104.85 396.52 106.06 395.10 107.27 393.79 C108.48 392.47 109.70 391.26 110.91 390.15 C112.12 389.04 113.33 388.23 114.55 387.12 C115.76 386.01 116.97 384.70 118.18 383.48 C119.39 382.27 120.81 380.66 121.82 379.85 C122.83 379.04 123.23 379.55 124.24 378.64 C125.25 377.73 126.67 375.91 127.88 374.39 C129.09 372.88 130.30 370.96 131.52 369.55 C132.73 368.13 133.94 367.12 135.15 365.91 C136.36 364.70 137.98 363.08 138.79 362.27 C139.60 361.46 139.22 362.64 140.00 361.06 C140.78 359.48 142.02 355.50 143.48 352.81 C144.94 350.11 147.00 347.52 148.76 344.88 C150.52 342.24 152.28 339.60 154.04 336.96 C155.80 334.32 157.75 331.03 159.32 329.04 C160.90 327.05 162.19 326.79 163.48 325.03 C164.78 323.27 165.91 320.59 167.12 318.48 C168.33 316.38 169.55 314.24 170.76 312.42 C171.97 310.61 173.18 309.19 174.39 307.58 C175.61 305.96 176.82 304.24 178.03 302.73 C179.24 301.21 180.45 299.80 181.67 298.48 C182.88 297.17 184.09 295.86 185.30 294.85 C186.52 293.84 187.73 293.13 188.94 292.42 C190.15 291.72 191.57 291.11 192.58 290.61 C193.59 290.10 193.24 290.58 195.00 289.39 C196.76 288.21 200.58 284.78 203.11 283.51 C205.64 282.24 207.81 282.28 210.16 281.75 C212.52 281.22 214.87 280.69 217.22 280.34 C219.57 279.98 221.92 279.75 224.27 279.63 C226.62 279.51 229.27 279.57 231.33 279.63 C233.39 279.69 234.86 279.69 236.62 279.98 C238.38 280.28 240.44 280.86 241.91 281.39 C243.38 281.92 243.97 282.95 245.44 283.16 C246.91 283.36 248.96 282.63 250.73 282.63 C252.49 282.63 254.26 282.86 256.02 283.16 C257.78 283.45 259.55 283.98 261.31 284.39 C263.07 284.80 265.07 285.33 266.60 285.63 C268.13 285.92 269.83 286.07 270.48 286.16"/>
<path stroke="#ababab" d="M39.91 421.00 C40.67 421.39 41.58 422.97 44.45 423.36 C47.33 423.76 52.03 423.39 57.18 423.36 C62.33 423.33 70.52 423.52 75.36 423.18 C80.21 422.85 83.55 422.12 86.27 421.36 C89.00 420.61 90.21 419.85 91.73 418.64 C93.24 417.42 94.15 415.76 95.36 414.09 C96.58 412.42 97.82 410.00 99.00 408.64 C100.18 407.27 101.05 407.37 102.42 405.91 C103.80 404.44 105.66 401.67 107.27 399.85 C108.89 398.03 110.51 396.62 112.12 395.00 C113.74 393.38 115.35 391.67 116.97 390.15 C118.59 388.64 120.40 387.12 121.82 385.91 C123.23 384.70 124.24 384.09 125.45 382.88 C126.67 381.67 127.88 380.05 129.09 378.64 C130.30 377.22 131.52 375.81 132.73 374.39 C133.94 372.98 135.15 371.36 136.36 370.15 C137.58 368.94 138.15 370.12 140.00 367.12 C141.85 364.12 145.32 355.96 147.44 352.15 C149.56 348.33 150.96 346.75 152.72 344.22 C154.48 341.69 156.24 339.27 158.00 336.96 C159.76 334.65 162.12 331.79 163.28 330.36 C164.45 328.93 164.16 329.27 165.00 328.38 C165.84 327.49 167.17 326.68 168.33 325.03 C169.49 323.38 170.76 320.79 171.97 318.48 C173.18 316.18 174.39 313.43 175.61 311.21 C176.82 308.99 178.03 307.07 179.24 305.15 C180.45 303.23 181.67 301.31 182.88 299.70 C184.09 298.08 185.30 296.77 186.52 295.45 C187.73 294.14 188.94 292.93 190.15 291.82 C191.36 290.71 192.98 289.39 193.79 288.79 C194.60 288.18 193.45 289.36 195.00 288.18 C196.55 287.01 200.58 283.41 203.11 281.75 C205.64 280.09 207.81 279.39 210.16 278.22 C212.52 277.04 214.87 275.43 217.22 274.69 C219.57 273.96 222.22 274.10 224.27 273.81 C226.33 273.52 227.80 273.37 229.56 272.93 C231.33 272.49 233.09 270.87 234.86 271.16 C236.62 271.46 238.38 273.81 240.15 274.69 C241.91 275.57 243.67 276.22 245.44 276.46 C247.20 276.69 248.96 275.51 250.73 276.10 C252.49 276.69 254.26 278.89 256.02 279.98 C257.78 281.07 259.55 281.89 261.31 282.63 C263.07 283.36 265.07 283.95 266.60 284.39 C268.13 284.83 269.83 285.13 270.48 285.27"/>
<path stroke="#3ea3e2" d="M39.91 421.00 C40.67 421.39 41.58 422.97 44.45 423.36 C47.33 423.76 52.03 423.42 57.18 423.36 C62.33 423.30 70.82 423.64 75.36 423.00 C79.91 422.36 81.73 420.73 84.45 419.55 C87.18 418.36 89.91 417.27 91.73 415.91 C93.55 414.55 93.98 413.94 95.36 411.36 C96.74 408.79 98.62 403.18 100.00 400.45 C101.38 397.73 102.42 396.72 103.64 395.00 C104.85 393.28 106.06 391.77 107.27 390.15 C108.48 388.54 109.70 386.82 110.91 385.30 C112.12 383.79 113.33 382.52 114.55 381.06 C115.76 379.61 116.97 378.03 118.18 376.58 C119.39 375.12 120.61 373.65 121.82 372.33 C123.03 371.02 124.04 370.01 125.45 368.70 C126.87 367.38 128.69 366.13 130.30 364.45 C131.92 362.78 133.94 360.21 135.15 358.64 C136.36 357.06 136.19 357.51 137.58 355.00 C138.96 352.49 141.62 346.79 143.48 343.56 C145.35 340.34 147.00 338.28 148.76 335.64 C150.52 333.00 152.60 329.77 154.04 327.72 C155.49 325.67 156.05 325.68 157.42 323.33 C158.80 320.99 160.66 316.67 162.27 313.64 C163.89 310.61 165.51 307.98 167.12 305.15 C168.74 302.32 170.35 299.29 171.97 296.67 C173.59 294.04 175.20 291.62 176.82 289.39 C178.43 287.17 180.05 284.75 181.67 283.33 C183.28 281.92 184.90 281.82 186.52 280.91 C188.13 280.00 189.95 278.79 191.36 277.88 C192.78 276.97 193.04 276.87 195.00 275.45 C196.96 274.04 200.58 270.76 203.11 269.40 C205.64 268.04 207.81 267.87 210.16 267.28 C212.52 266.70 214.87 266.26 217.22 265.87 C219.57 265.49 221.92 265.29 224.27 264.99 C226.62 264.70 228.98 264.32 231.33 264.11 C233.68 263.90 236.03 264.05 238.38 263.76 C240.73 263.46 243.38 262.52 245.44 262.35 C247.50 262.17 248.96 262.40 250.73 262.70 C252.49 262.99 254.26 263.82 256.02 264.11 C257.78 264.40 259.55 264.46 261.31 264.46 C263.07 264.46 265.07 263.87 266.60 264.11 C268.13 264.34 269.83 265.58 270.48 265.87"/>
<path stroke="#ec1c24" d="M39.91 420.45 C40.67 420.82 41.58 422.27 44.45 422.64 C47.33 423.00 52.64 422.67 57.18 422.64 C61.73 422.61 67.79 422.79 71.73 422.45 C75.67 422.12 78.09 421.58 80.82 420.64 C83.55 419.70 85.97 418.21 88.09 416.82 C90.21 415.42 92.03 414.09 93.55 412.27 C95.06 410.45 96.11 408.38 97.18 405.91 C98.26 403.43 98.92 400.05 100.00 397.42 C101.08 394.80 102.42 392.37 103.64 390.15 C104.85 387.93 106.06 385.91 107.27 384.09 C108.48 382.27 109.70 380.66 110.91 379.24 C112.12 377.83 113.33 376.72 114.55 375.61 C115.76 374.49 116.97 373.48 118.18 372.58 C119.39 371.67 120.61 370.96 121.82 370.15 C123.03 369.34 124.24 368.84 125.45 367.73 C126.67 366.62 128.08 364.80 129.09 363.48 C130.10 362.17 130.71 361.06 131.52 359.85 C132.32 358.64 132.38 358.93 133.94 356.21 C135.49 353.50 138.81 346.99 140.84 343.56 C142.87 340.14 144.36 338.28 146.12 335.64 C147.88 333.00 149.92 329.77 151.40 327.72 C152.88 325.67 153.59 325.28 155.00 323.33 C156.41 321.39 158.23 318.48 159.85 316.06 C161.46 313.64 163.08 311.11 164.70 308.79 C166.31 306.46 167.93 304.14 169.55 302.12 C171.16 300.10 172.78 298.38 174.39 296.67 C176.01 294.95 177.63 293.23 179.24 291.82 C180.86 290.40 182.47 289.39 184.09 288.18 C185.71 286.97 187.53 285.56 188.94 284.55 C190.35 283.54 191.57 282.69 192.58 282.12 C193.59 281.56 193.24 282.24 195.00 281.15 C196.76 280.06 200.58 276.94 203.11 275.57 C205.64 274.20 207.81 273.81 210.16 272.93 C212.52 272.05 214.87 270.87 217.22 270.28 C219.57 269.69 222.22 269.78 224.27 269.40 C226.33 269.02 227.80 268.28 229.56 267.99 C231.33 267.70 233.09 267.75 234.86 267.64 C236.62 267.52 238.38 267.14 240.15 267.28 C241.91 267.43 243.67 268.17 245.44 268.52 C247.20 268.87 248.96 269.40 250.73 269.40 C252.49 269.40 254.26 268.67 256.02 268.52 C257.78 268.37 259.55 268.37 261.31 268.52 C263.07 268.67 265.07 269.11 266.60 269.40 C268.13 269.69 269.83 270.14 270.48 270.28"/>
<path stroke="#17b04f" d="M39.00 417.73 C39.91 418.73 41.42 422.70 44.45 423.73 C47.48 424.76 52.64 423.94 57.18 423.91 C61.73 423.88 67.79 423.97 71.73 423.55 C75.67 423.12 78.09 422.33 80.82 421.36 C83.55 420.39 85.97 419.09 88.09 417.73 C90.21 416.36 92.03 414.70 93.55 413.18 C95.06 411.67 96.11 410.56 97.18 408.64 C98.26 406.72 98.92 403.74 100.00 401.67 C101.08 399.60 102.42 397.93 103.64 396.21 C104.85 394.49 106.06 392.98 107.27 391.36 C108.48 389.75 109.70 388.03 110.91 386.52 C112.12 385.00 113.33 383.69 114.55 382.27 C115.76 380.86 116.97 379.55 118.18 378.03 C119.39 376.52 120.61 374.60 121.82 373.18 C123.03 371.77 124.24 370.66 125.45 369.55 C126.67 368.43 127.88 367.53 129.09 366.52 C130.30 365.51 131.52 364.60 132.73 363.48 C133.94 362.37 135.15 361.06 136.36 359.85 C137.58 358.64 138.37 358.82 140.00 356.21 C141.63 353.61 144.22 347.54 146.12 344.22 C148.02 340.91 149.64 339.05 151.40 336.30 C153.16 333.55 155.28 329.88 156.68 327.72 C158.09 325.56 158.51 325.08 159.85 323.33 C161.18 321.59 163.08 319.09 164.70 317.27 C166.31 315.45 168.13 313.74 169.55 312.42 C170.96 311.11 171.97 310.40 173.18 309.39 C174.39 308.38 175.61 307.47 176.82 306.36 C178.03 305.25 179.24 303.94 180.45 302.73 C181.67 301.52 182.88 300.30 184.09 299.09 C185.30 297.88 186.52 296.57 187.73 295.45 C188.94 294.34 190.15 293.33 191.36 292.42 C192.58 291.52 193.04 291.04 195.00 290.00 C196.96 288.96 200.58 287.24 203.11 286.16 C205.64 285.07 207.81 284.54 210.16 283.51 C212.52 282.48 214.87 281.01 217.22 279.98 C219.57 278.95 221.92 277.92 224.27 277.34 C226.62 276.75 228.98 276.75 231.33 276.46 C233.68 276.16 236.03 275.57 238.38 275.57 C240.73 275.57 243.09 276.46 245.44 276.46 C247.79 276.46 250.14 275.93 252.49 275.57 C254.84 275.22 257.20 274.69 259.55 274.34 C261.90 273.99 264.78 273.54 266.60 273.46 C268.42 273.37 269.83 273.75 270.48 273.81"/>
<path stroke="#fdc20e" d="M39.91 419.55 C40.67 420.24 41.58 423.00 44.45 423.73 C47.33 424.45 52.03 423.94 57.18 423.91 C62.33 423.88 70.52 423.97 75.36 423.55 C80.21 423.12 83.55 422.33 86.27 421.36 C89.00 420.39 90.21 418.94 91.73 417.73 C93.24 416.52 93.98 416.06 95.36 414.09 C96.74 412.12 98.62 408.08 100.00 405.91 C101.38 403.74 102.42 402.68 103.64 401.06 C104.85 399.44 106.06 397.83 107.27 396.21 C108.48 394.60 109.70 392.88 110.91 391.36 C112.12 389.85 113.33 388.54 114.55 387.12 C115.76 385.71 116.97 384.29 118.18 382.88 C119.39 381.46 120.61 379.95 121.82 378.64 C123.03 377.32 124.24 376.41 125.45 375.00 C126.67 373.59 127.88 371.67 129.09 370.15 C130.30 368.64 131.52 367.22 132.73 365.91 C133.94 364.60 135.15 363.48 136.36 362.27 C137.58 361.06 138.59 360.32 140.00 358.64 C141.41 356.95 143.12 354.55 144.80 352.15 C146.48 349.74 148.32 346.86 150.08 344.22 C151.84 341.58 153.60 338.72 155.36 336.30 C157.12 333.88 159.04 331.24 160.64 329.70 C162.25 328.16 163.76 327.63 165.00 327.06 C166.24 326.50 167.12 326.66 168.08 326.32 C169.04 325.98 169.71 325.93 170.76 325.03 C171.81 324.13 173.18 322.10 174.39 320.91 C175.61 319.72 176.82 318.69 178.03 317.88 C179.24 317.07 180.45 316.77 181.67 316.06 C182.88 315.35 184.09 314.44 185.30 313.64 C186.52 312.83 187.73 312.02 188.94 311.21 C190.15 310.40 191.57 309.49 192.58 308.79 C193.59 308.08 193.24 308.10 195.00 306.97 C196.76 305.84 200.58 303.44 203.11 302.03 C205.64 300.62 207.81 299.68 210.16 298.50 C212.52 297.33 214.87 296.15 217.22 294.97 C219.57 293.80 221.92 292.42 224.27 291.45 C226.62 290.48 228.98 290.04 231.33 289.15 C233.68 288.27 236.62 286.86 238.38 286.16 C240.15 285.45 240.15 285.21 241.91 284.92 C243.67 284.63 246.61 284.63 248.96 284.39 C251.32 284.16 253.67 283.72 256.02 283.51 C258.37 283.30 260.66 283.36 263.07 283.16 C265.48 282.95 269.25 282.42 270.48 282.28"/>
<path stroke="#f5822f" d="M39.91 419.55 C40.67 420.24 41.58 423.00 44.45 423.73 C47.33 424.45 52.03 423.91 57.18 423.91 C62.33 423.91 70.82 424.00 75.36 423.73 C79.91 423.45 81.42 422.82 84.45 422.27 C87.48 421.73 91.12 421.06 93.55 420.45 C95.97 419.85 97.48 419.39 99.00 418.64 C100.52 417.88 101.26 417.34 102.64 415.91 C104.02 414.47 105.69 411.90 107.27 410.03 C108.85 408.16 110.51 406.39 112.12 404.70 C113.74 403.00 115.35 401.46 116.97 399.85 C118.59 398.23 120.20 396.72 121.82 395.00 C123.43 393.28 125.05 391.36 126.67 389.55 C128.28 387.73 129.90 386.01 131.52 384.09 C133.13 382.17 134.95 379.85 136.36 378.03 C137.78 376.21 138.02 374.96 140.00 373.18 C141.98 371.40 146.11 369.56 148.23 367.35 C150.35 365.14 151.09 361.92 152.72 359.93 C154.35 357.95 156.24 356.96 158.00 355.45 C159.76 353.93 162.12 351.93 163.28 350.83 C164.45 349.72 163.98 350.06 165.00 348.84 C166.02 347.63 167.79 345.52 169.41 343.53 C171.02 341.54 172.94 338.89 174.70 336.91 C176.47 334.92 177.61 333.75 179.99 331.61 C182.38 329.48 186.32 325.77 189.00 324.07 C191.68 322.38 193.70 322.31 196.05 321.43 C198.41 320.55 200.76 319.52 203.11 318.78 C205.46 318.05 207.81 317.46 210.16 317.02 C212.52 316.58 214.87 316.58 217.22 316.14 C219.57 315.70 221.92 314.96 224.27 314.37 C226.62 313.79 228.98 313.20 231.33 312.61 C233.68 312.02 236.03 311.29 238.38 310.85 C240.73 310.41 243.09 310.35 245.44 309.96 C247.79 309.58 250.14 309.14 252.49 308.55 C254.84 307.97 257.49 307.08 259.55 306.44 C261.60 305.79 263.02 305.26 264.84 304.67 C266.66 304.09 269.54 303.20 270.48 302.91"/>
<path stroke="#111111" clip-path="url(#clipC)" d="M39.00 417.73 C39.91 418.70 41.42 422.58 44.45 423.55 C47.48 424.52 52.64 423.58 57.18 423.55 C61.73 423.52 68.70 423.45 71.73 423.36 C74.76 423.27 73.24 423.64 75.36 423.00 C77.48 422.36 81.73 420.88 84.45 419.55 C87.18 418.21 89.91 416.52 91.73 415.00 C93.55 413.48 93.98 412.47 95.36 410.45 C96.74 408.43 98.62 404.95 100.00 402.88 C101.38 400.81 102.42 399.55 103.64 398.03 C104.85 396.52 106.06 395.10 107.27 393.79 C108.48 392.47 109.70 391.26 110.91 390.15 C112.12 389.04 113.33 388.23 114.55 387.12 C115.76 386.01 116.97 384.70 118.18 383.48 C119.39 382.27 120.81 380.66 121.82 379.85 C122.83 379.04 123.23 379.55 124.24 378.64 C125.25 377.73 126.67 375.91 127.88 374.39 C129.09 372.88 130.30 370.96 131.52 369.55 C132.73 368.13 133.94 367.12 135.15 365.91 C136.36 364.70 137.98 363.08 138.79 362.27 C139.60 361.46 139.22 362.64 140.00 361.06 C140.78 359.48 142.02 355.50 143.48 352.81 C144.94 350.11 147.00 347.52 148.76 344.88 C150.52 342.24 152.28 339.60 154.04 336.96 C155.80 334.32 157.75 331.03 159.32 329.04 C160.90 327.05 162.19 326.79 163.48 325.03 C164.78 323.27 165.91 320.59 167.12 318.48 C168.33 316.38 169.55 314.24 170.76 312.42 C171.97 310.61 173.18 309.19 174.39 307.58 C175.61 305.96 176.82 304.24 178.03 302.73 C179.24 301.21 180.45 299.80 181.67 298.48 C182.88 297.17 184.09 295.86 185.30 294.85 C186.52 293.84 187.73 293.13 188.94 292.42 C190.15 291.72 191.57 291.11 192.58 290.61 C193.59 290.10 193.24 290.58 195.00 289.39 C196.76 288.21 200.58 284.78 203.11 283.51 C205.64 282.24 207.81 282.28 210.16 281.75 C212.52 281.22 214.87 280.69 217.22 280.34 C219.57 279.98 221.92 279.75 224.27 279.63 C226.62 279.51 229.27 279.57 231.33 279.63 C233.39 279.69 234.86 279.69 236.62 279.98 C238.38 280.28 240.44 280.86 241.91 281.39 C243.38 281.92 243.97 282.95 245.44 283.16 C246.91 283.36 248.96 282.63 250.73 282.63 C252.49 282.63 254.26 282.86 256.02 283.16 C257.78 283.45 259.55 283.98 261.31 284.39 C263.07 284.80 265.07 285.33 266.60 285.63 C268.13 285.92 269.83 286.07 270.48 286.16"/>
</g>
<g stroke="#1a1a1a" stroke-width="1.35" fill="none">
<path d="M39.4 241.0 V423.7 H269.4"/>
<path d="M36.8 423.7 H39.4"/>
<path d="M36.8 393.2 H39.4"/>
<path d="M36.8 362.8 H39.4"/>
<path d="M36.8 332.3 H39.4"/>
<path d="M36.8 301.9 H39.4"/>
<path d="M36.8 271.4 H39.4"/>
<path d="M36.8 241.0 H39.4"/>
<path d="M39.4 423.7 V426.3"/>
<path d="M62.4 423.7 V426.3"/>
<path d="M85.4 423.7 V426.3"/>
<path d="M108.4 423.7 V426.3"/>
<path d="M131.4 423.7 V426.3"/>
<path d="M154.4 423.7 V426.3"/>
<path d="M177.4 423.7 V426.3"/>
<path d="M200.4 423.7 V426.3"/>
<path d="M223.4 423.7 V426.3"/>
<path d="M246.4 423.7 V426.3"/>
<path d="M269.4 423.7 V426.3"/>
</g>
<g font-size="8.1" fill="#000" stroke="#000" stroke-width="0.15" text-anchor="end">
<text x="34.4" y="425.8">0</text>
<text x="34.4" y="395.4">0.2</text>
<text x="34.4" y="364.9">0.4</text>
<text x="34.4" y="334.5">0.6</text>
<text x="34.4" y="304.0">0.8</text>
<text x="34.4" y="273.6">1</text>
<text x="34.4" y="243.1">1.2</text>
</g>
<g font-size="8.1" fill="#000" stroke="#000" stroke-width="0.15" text-anchor="middle">
<text x="40.4" y="435.9">0</text>
<text x="63.4" y="435.9">2</text>
<text x="86.4" y="435.9">4</text>
<text x="109.4" y="435.9">6</text>
<text x="132.4" y="435.9">8</text>
<text x="155.4" y="435.9">10</text>
<text x="178.4" y="435.9">12</text>
<text x="201.4" y="435.9">14</text>
<text x="224.4" y="435.9">16</text>
<text x="247.4" y="435.9">18</text>
<text x="270.4" y="435.9">20</text>
</g>
<text x="157.9" y="446.0" font-size="8.9" fill="#111" stroke="#111" stroke-width="0.08" text-anchor="middle">Time [h]</text>
<text transform="translate(19.0 332.3) rotate(-90)" font-size="9.10" fill="#111" stroke="#111" stroke-width="0.1" text-anchor="middle">OD<tspan font-size="5.73" dy="0.46">600</tspan></text>
<text transform="translate(5.6 243.3) scale(1 1.03)" font-size="17.2" fill="#111" stroke="#111" stroke-width="0.25">C</text>
<text x="43.8" y="248.6" font-size="11.4" fill="#111" stroke="#111" stroke-width="0.15"><tspan font-style="italic">P. aeruginosa</tspan> PAO1161</text>
<g font-size="7.4" fill="#111" stroke="#111" stroke-width="0.12">
<path d="M176.3 340.4 H188.8" stroke="#3ea3e2" stroke-width="2"/>
<text x="189.9" y="342.9">FLAG-PA3027 0 mM IPTG</text>
<path d="M176.3 352.9 H188.8" stroke="#ec1c24" stroke-width="2"/>
<text x="189.9" y="355.4">FLAG-PA3027 0.05 mM IPTG</text>
<path d="M176.3 365.4 H188.8" stroke="#17b04f" stroke-width="2"/>
<text x="189.9" y="367.9">FLAG-PA3027 0.1 mM IPTG</text>
<path d="M176.3 378.0 H188.8" stroke="#fdc20e" stroke-width="2"/>
<text x="189.9" y="380.5">FLAG-PA3027 0.2 mM IPTG</text>
<path d="M176.3 390.5 H188.8" stroke="#f5822f" stroke-width="2"/>
<text x="189.9" y="393.0">FLAG-PA3027 0.5 mM IPTG</text>
<path d="M176.3 403.0 H188.8" stroke="#111111" stroke-width="2"/>
<text x="189.9" y="405.5">vector FLAG 0 mM IPTG</text>
<path d="M176.3 415.5 H188.8" stroke="#ababab" stroke-width="2"/>
<text x="189.9" y="418.0">vector FLAG 0.5</text>
</g>
<clipPath id="clipD"><rect x="344.5" y="0" width="300" height="454"/><rect x="301.3" y="0" width="6.5" height="454"/></clipPath>
<g fill="none" stroke-width="1.65" stroke-linejoin="round" stroke-linecap="round">
<path stroke="#111111" d="M306.91 420.45 C307.52 420.64 307.67 421.30 310.55 421.55 C313.42 421.79 320.39 421.91 324.18 421.91 C327.97 421.91 330.24 421.88 333.27 421.55 C336.30 421.21 339.64 420.70 342.36 419.91 C345.09 419.12 347.52 417.85 349.64 416.82 C351.76 415.79 353.58 414.94 355.09 413.73 C356.61 412.52 357.52 411.00 358.73 409.55 C359.94 408.09 361.15 406.21 362.36 405.00 C363.58 403.79 364.79 403.18 366.00 402.27 C367.21 401.36 368.42 400.45 369.64 399.55 C370.85 398.64 372.06 397.73 373.27 396.82 C374.48 395.91 375.79 395.01 376.91 394.09 C378.03 393.17 378.93 392.39 380.00 391.28 C381.07 390.17 382.20 388.71 383.31 387.42 C384.41 386.14 385.51 384.85 386.61 383.57 C387.71 382.28 388.82 381.00 389.92 379.71 C391.02 378.43 392.12 377.05 393.22 375.85 C394.33 374.66 395.43 373.74 396.53 372.55 C397.63 371.35 398.73 369.98 399.83 368.69 C400.94 367.41 402.04 366.12 403.14 364.83 C404.24 363.55 405.34 362.26 406.45 360.98 C407.55 359.69 408.65 358.50 409.75 357.12 C410.85 355.74 411.80 354.73 413.06 352.71 C414.31 350.70 415.28 348.60 417.27 345.03 C419.26 341.46 422.98 334.86 425.00 331.28 C427.02 327.70 427.94 325.77 429.41 323.57 C430.88 321.36 432.35 319.80 433.82 318.06 C435.28 316.31 436.75 314.57 438.22 313.10 C439.69 311.63 441.16 310.53 442.63 309.24 C444.10 307.96 445.57 306.67 447.04 305.39 C448.51 304.10 449.98 302.72 451.45 301.53 C452.92 300.34 454.38 299.42 455.85 298.22 C457.32 297.03 458.74 295.47 460.26 294.37 C461.79 293.26 463.36 292.69 465.00 291.61 C466.64 290.54 468.08 288.83 470.11 287.92 C472.14 287.01 474.81 286.74 477.16 286.16 C479.52 285.57 481.87 284.77 484.22 284.39 C486.57 284.01 488.92 283.95 491.27 283.86 C493.62 283.77 495.98 283.77 498.33 283.86 C500.68 283.95 503.03 284.16 505.38 284.39 C507.73 284.63 510.09 284.98 512.44 285.27 C514.79 285.57 517.14 285.63 519.49 286.16 C521.84 286.68 524.20 288.24 526.55 288.45 C528.90 288.65 531.69 287.39 533.60 287.39 C535.51 287.39 537.28 288.27 538.01 288.45"/>
<path stroke="#ababab" d="M306.91 419.91 C307.52 420.18 307.67 421.21 310.55 421.55 C313.42 421.88 318.88 421.94 324.18 421.91 C329.48 421.88 337.82 422.06 342.36 421.36 C346.91 420.67 348.73 419.24 351.45 417.73 C354.18 416.21 356.61 414.09 358.73 412.27 C360.85 410.45 362.36 408.64 364.18 406.82 C366.00 405.00 367.82 403.18 369.64 401.36 C371.45 399.55 373.27 397.58 375.09 395.91 C376.91 394.24 378.81 392.87 380.55 391.36 C382.28 389.86 383.95 388.17 385.51 386.87 C387.07 385.57 388.45 385.04 389.92 383.57 C391.39 382.10 392.86 379.80 394.33 378.06 C395.79 376.31 397.26 374.75 398.73 373.10 C400.20 371.45 401.67 369.79 403.14 368.14 C404.61 366.49 406.08 364.83 407.55 363.18 C409.02 361.53 410.49 359.78 411.96 358.22 C413.43 356.66 414.87 356.01 416.36 353.82 C417.86 351.62 419.10 348.42 420.91 345.03 C422.72 341.64 425.42 336.69 427.20 333.48 C428.99 330.28 430.14 327.98 431.61 325.77 C433.08 323.57 434.55 321.91 436.02 320.26 C437.49 318.61 438.96 317.14 440.43 315.85 C441.90 314.57 443.37 313.65 444.83 312.55 C446.30 311.45 447.77 310.34 449.24 309.24 C450.71 308.14 452.18 307.04 453.65 305.94 C455.12 304.83 456.59 303.73 458.06 302.63 C459.53 301.53 461.31 300.15 462.47 299.33 C463.62 298.50 463.73 298.54 465.00 297.67 C466.27 296.80 468.08 295.86 470.11 294.09 C472.14 292.32 474.81 289.68 477.16 287.04 C479.52 284.39 481.87 280.57 484.22 278.22 C486.57 275.87 488.92 274.34 491.27 272.93 C493.62 271.52 496.27 270.49 498.33 269.75 C500.39 269.02 501.86 268.34 503.62 268.52 C505.38 268.69 507.15 270.22 508.91 270.81 C510.67 271.40 512.44 271.75 514.20 272.05 C515.96 272.34 517.43 272.13 519.49 272.57 C521.55 273.02 524.20 273.99 526.55 274.69 C528.90 275.40 531.69 276.16 533.60 276.81 C535.51 277.45 537.28 278.28 538.01 278.57"/>
<path stroke="#3ea3e2" d="M306.91 419.55 C307.52 419.88 307.67 421.15 310.55 421.55 C313.42 421.94 320.39 421.91 324.18 421.91 C327.97 421.91 330.24 421.88 333.27 421.55 C336.30 421.21 339.64 420.70 342.36 419.91 C345.09 419.12 347.52 417.85 349.64 416.82 C351.76 415.79 353.58 414.94 355.09 413.73 C356.61 412.52 357.52 411.00 358.73 409.55 C359.94 408.09 361.15 406.52 362.36 405.00 C363.58 403.48 364.79 401.82 366.00 400.45 C367.21 399.09 368.42 398.03 369.64 396.82 C370.85 395.61 372.06 394.55 373.27 393.18 C374.48 391.82 375.79 390.46 376.91 388.64 C378.03 386.81 378.93 384.04 380.00 382.25 C381.07 380.45 382.20 379.27 383.31 377.84 C384.41 376.40 385.51 374.75 386.61 373.65 C387.71 372.55 388.82 372.03 389.92 371.23 C391.02 370.42 392.12 370.01 393.22 368.80 C394.33 367.59 395.43 365.57 396.53 363.95 C397.63 362.34 398.73 360.65 399.83 359.10 C400.94 357.56 402.04 356.17 403.14 354.70 C404.24 353.23 405.30 352.18 406.45 350.29 C407.59 348.40 408.40 345.87 410.00 343.33 C411.60 340.80 414.04 338.08 416.06 335.09 C418.08 332.10 420.63 327.68 422.12 325.39 C423.61 323.11 423.79 323.23 425.00 321.36 C426.21 319.50 427.94 316.59 429.41 314.20 C430.88 311.81 432.35 309.52 433.82 307.04 C435.28 304.56 436.75 301.71 438.22 299.33 C439.69 296.94 441.16 294.92 442.63 292.71 C444.10 290.51 444.81 288.66 447.04 286.10 C449.27 283.54 453.33 279.83 456.00 277.34 C458.67 274.85 460.70 272.78 463.05 271.16 C465.41 269.55 467.76 268.52 470.11 267.64 C472.46 266.75 474.81 266.40 477.16 265.87 C479.52 265.34 481.87 264.81 484.22 264.46 C486.57 264.11 488.92 263.96 491.27 263.76 C493.62 263.55 495.98 263.40 498.33 263.23 C500.68 263.05 503.03 262.79 505.38 262.70 C507.73 262.61 510.09 262.82 512.44 262.70 C514.79 262.58 517.14 262.05 519.49 261.99 C521.84 261.93 524.20 262.05 526.55 262.35 C528.90 262.64 531.69 263.32 533.60 263.76 C535.51 264.20 537.28 264.79 538.01 264.99"/>
<path stroke="#ec1c24" d="M306.91 419.55 C307.52 419.88 307.67 421.15 310.55 421.55 C313.42 421.94 320.39 421.91 324.18 421.91 C327.97 421.91 330.24 421.88 333.27 421.55 C336.30 421.21 339.64 420.70 342.36 419.91 C345.09 419.12 347.52 417.85 349.64 416.82 C351.76 415.79 353.58 414.94 355.09 413.73 C356.61 412.52 357.52 411.00 358.73 409.55 C359.94 408.09 361.15 406.67 362.36 405.00 C363.58 403.33 364.79 401.36 366.00 399.55 C367.21 397.73 368.42 395.76 369.64 394.09 C370.85 392.42 372.06 390.91 373.27 389.55 C374.48 388.18 375.79 387.27 376.91 385.91 C378.03 384.55 378.93 382.86 380.00 381.36 C381.07 379.87 382.20 378.43 383.31 376.96 C384.41 375.49 385.51 373.65 386.61 372.55 C387.71 371.45 388.82 371.08 389.92 370.34 C391.02 369.61 392.12 369.33 393.22 368.14 C394.33 366.95 395.43 364.83 396.53 363.18 C397.63 361.53 398.73 359.78 399.83 358.22 C400.94 356.66 402.04 355.28 403.14 353.82 C404.24 352.35 405.30 351.36 406.45 349.41 C407.59 347.46 408.40 344.75 410.00 342.12 C411.60 339.49 414.04 336.67 416.06 333.64 C418.08 330.61 420.63 326.35 422.12 323.94 C423.61 321.53 423.79 321.06 425.00 319.16 C426.21 317.26 427.94 314.75 429.41 312.55 C430.88 310.34 432.35 308.14 433.82 305.94 C435.28 303.73 436.75 301.35 438.22 299.33 C439.69 297.30 441.16 295.47 442.63 293.82 C444.10 292.16 445.57 290.88 447.04 289.41 C448.51 287.94 449.95 286.28 451.45 285.00 C452.94 283.72 454.07 283.46 456.00 281.75 C457.93 280.03 460.70 276.60 463.05 274.69 C465.41 272.78 467.76 271.46 470.11 270.28 C472.46 269.11 474.81 268.37 477.16 267.64 C479.52 266.90 481.87 266.40 484.22 265.87 C486.57 265.34 489.22 264.99 491.27 264.46 C493.33 263.93 494.80 263.11 496.56 262.70 C498.33 262.29 500.09 261.82 501.86 261.99 C503.62 262.17 505.38 263.55 507.15 263.76 C508.91 263.96 510.38 263.52 512.44 263.23 C514.50 262.93 517.14 261.99 519.49 261.99 C521.84 261.99 524.20 262.82 526.55 263.23 C528.90 263.64 531.69 264.02 533.60 264.46 C535.51 264.90 537.28 265.64 538.01 265.87"/>
<path stroke="#17b04f" d="M306.00 415.00 C306.76 416.09 307.52 420.39 310.55 421.55 C313.58 422.70 320.39 421.91 324.18 421.91 C327.97 421.91 330.24 421.88 333.27 421.55 C336.30 421.21 339.64 420.70 342.36 419.91 C345.09 419.12 347.52 417.85 349.64 416.82 C351.76 415.79 353.58 414.94 355.09 413.73 C356.61 412.52 357.52 411.15 358.73 409.55 C359.94 407.94 361.15 405.91 362.36 404.09 C363.58 402.27 364.79 400.45 366.00 398.64 C367.21 396.82 368.42 394.70 369.64 393.18 C370.85 391.67 372.06 390.76 373.27 389.55 C374.48 388.33 375.79 386.91 376.91 385.91 C378.03 384.91 378.93 384.69 380.00 383.57 C381.07 382.44 382.20 380.54 383.31 379.16 C384.41 377.78 385.51 376.40 386.61 375.30 C387.71 374.20 388.82 373.47 389.92 372.55 C391.02 371.63 392.12 370.99 393.22 369.79 C394.33 368.60 395.43 366.95 396.53 365.39 C397.63 363.82 398.73 361.99 399.83 360.43 C400.94 358.87 402.04 357.49 403.14 356.02 C404.24 354.55 405.34 353.08 406.45 351.61 C407.55 350.14 408.76 348.38 409.75 347.20 C410.75 346.03 410.97 346.60 412.42 344.55 C413.88 342.49 416.39 338.44 418.48 334.85 C420.58 331.26 423.18 326.00 425.00 323.02 C426.82 320.03 427.94 318.79 429.41 316.96 C430.88 315.12 432.35 313.47 433.82 312.00 C435.28 310.53 436.75 309.33 438.22 308.14 C439.69 306.95 441.16 305.94 442.63 304.83 C444.10 303.73 445.57 302.81 447.04 301.53 C448.51 300.24 449.98 298.41 451.45 297.12 C452.92 295.84 454.38 294.83 455.85 293.82 C457.32 292.81 458.74 291.98 460.26 291.06 C461.79 290.14 463.36 289.86 465.00 288.31 C466.64 286.75 468.08 283.43 470.11 281.75 C472.14 280.06 474.81 279.39 477.16 278.22 C479.52 277.04 481.87 275.72 484.22 274.69 C486.57 273.66 488.92 272.78 491.27 272.05 C493.62 271.31 495.98 270.78 498.33 270.28 C500.68 269.78 503.03 269.43 505.38 269.05 C507.73 268.67 510.09 268.22 512.44 267.99 C514.79 267.75 517.14 267.40 519.49 267.64 C521.84 267.87 524.49 269.34 526.55 269.40 C528.60 269.46 529.93 268.34 531.84 267.99 C533.75 267.64 536.98 267.40 538.01 267.28"/>
<path stroke="#fdc20e" d="M306.91 418.64 C307.52 419.12 307.67 421.00 310.55 421.55 C313.42 422.09 318.88 421.94 324.18 421.91 C329.48 421.88 337.82 422.12 342.36 421.36 C346.91 420.61 349.03 418.58 351.45 417.36 C353.88 416.15 355.39 415.39 356.91 414.09 C358.42 412.79 359.33 411.06 360.55 409.55 C361.76 408.03 362.97 406.52 364.18 405.00 C365.39 403.48 366.61 401.82 367.82 400.45 C369.03 399.09 370.24 398.18 371.45 396.82 C372.67 395.45 373.67 393.93 375.09 392.27 C376.52 390.62 378.63 388.60 380.00 386.87 C381.37 385.15 382.20 383.57 383.31 381.91 C384.41 380.26 385.51 378.33 386.61 376.96 C387.71 375.58 388.82 374.66 389.92 373.65 C391.02 372.64 392.12 372.00 393.22 370.90 C394.33 369.79 395.43 368.42 396.53 367.04 C397.63 365.66 398.73 364.19 399.83 362.63 C400.94 361.07 402.04 359.23 403.14 357.67 C404.24 356.11 405.16 354.92 406.45 353.26 C407.73 351.61 409.66 349.21 410.85 347.75 C412.05 346.30 412.16 346.70 413.64 344.55 C415.11 342.39 417.80 337.79 419.70 334.85 C421.59 331.90 423.38 329.30 425.00 326.87 C426.62 324.44 427.94 322.28 429.41 320.26 C430.88 318.24 432.35 316.22 433.82 314.75 C435.28 313.28 436.75 312.36 438.22 311.45 C439.69 310.53 441.16 309.89 442.63 309.24 C444.10 308.60 445.57 308.14 447.04 307.59 C448.51 307.04 449.98 306.49 451.45 305.94 C452.92 305.39 454.38 305.02 455.85 304.28 C457.32 303.55 458.74 302.36 460.26 301.53 C461.79 300.70 463.36 300.27 465.00 299.33 C466.64 298.38 468.08 297.02 470.11 295.86 C472.14 294.69 474.81 293.50 477.16 292.33 C479.52 291.15 481.87 289.83 484.22 288.80 C486.57 287.77 488.92 286.89 491.27 286.16 C493.62 285.42 495.98 285.19 498.33 284.39 C500.68 283.60 503.03 281.89 505.38 281.39 C507.73 280.89 510.09 281.48 512.44 281.39 C514.79 281.31 517.14 280.66 519.49 280.86 C521.84 281.07 524.20 282.48 526.55 282.63 C528.90 282.77 531.69 282.04 533.60 281.75 C535.51 281.45 537.28 281.01 538.01 280.86"/>
<path stroke="#f5822f" d="M306.00 415.00 C306.76 416.09 307.52 420.39 310.55 421.55 C313.58 422.70 318.88 421.88 324.18 421.91 C329.48 421.94 337.82 422.12 342.36 421.73 C346.91 421.33 349.03 420.21 351.45 419.55 C353.88 418.88 355.39 418.48 356.91 417.73 C358.42 416.97 359.33 416.06 360.55 415.00 C361.76 413.94 362.97 412.73 364.18 411.36 C365.39 410.00 366.61 408.33 367.82 406.82 C369.03 405.30 370.24 403.79 371.45 402.27 C372.67 400.76 373.67 399.10 375.09 397.73 C376.52 396.35 378.63 395.29 380.00 394.04 C381.37 392.78 382.20 391.46 383.31 390.18 C384.41 388.89 385.51 387.42 386.61 386.32 C387.71 385.22 388.63 384.85 389.92 383.57 C391.20 382.28 392.86 380.26 394.33 378.61 C395.79 376.96 397.26 375.30 398.73 373.65 C400.20 372.00 401.67 370.25 403.14 368.69 C404.61 367.13 406.08 365.84 407.55 364.28 C409.02 362.72 410.49 360.89 411.96 359.33 C413.43 357.76 414.67 357.30 416.36 354.92 C418.06 352.53 420.35 347.37 422.12 345.03 C423.89 342.70 425.57 342.58 426.97 340.91 C428.37 339.24 429.37 336.82 430.51 335.03 C431.65 333.24 432.53 331.91 433.82 330.18 C435.10 328.45 436.75 326.51 438.22 324.67 C439.69 322.83 441.16 320.81 442.63 319.16 C444.10 317.51 445.57 315.95 447.04 314.75 C448.51 313.56 449.98 312.64 451.45 312.00 C452.92 311.35 454.38 311.45 455.85 310.90 C457.32 310.34 458.74 309.43 460.26 308.69 C461.79 307.96 463.36 307.30 465.00 306.49 C466.64 305.67 468.08 304.54 470.11 303.79 C472.14 303.05 474.81 302.70 477.16 302.03 C479.52 301.35 481.87 300.32 484.22 299.74 C486.57 299.15 488.92 298.85 491.27 298.50 C493.62 298.15 496.27 298.12 498.33 297.62 C500.39 297.12 501.86 295.86 503.62 295.50 C505.38 295.15 507.15 295.59 508.91 295.50 C510.67 295.41 512.44 295.50 514.20 294.97 C515.96 294.44 517.43 293.12 519.49 292.33 C521.55 291.53 524.49 290.65 526.55 290.21 C528.60 289.77 529.93 289.56 531.84 289.68 C533.75 289.80 536.98 290.71 538.01 290.92"/>
<path stroke="#111111" clip-path="url(#clipD)" d="M306.91 420.45 C307.52 420.64 307.67 421.30 310.55 421.55 C313.42 421.79 320.39 421.91 324.18 421.91 C327.97 421.91 330.24 421.88 333.27 421.55 C336.30 421.21 339.64 420.70 342.36 419.91 C345.09 419.12 347.52 417.85 349.64 416.82 C351.76 415.79 353.58 414.94 355.09 413.73 C356.61 412.52 357.52 411.00 358.73 409.55 C359.94 408.09 361.15 406.21 362.36 405.00 C363.58 403.79 364.79 403.18 366.00 402.27 C367.21 401.36 368.42 400.45 369.64 399.55 C370.85 398.64 372.06 397.73 373.27 396.82 C374.48 395.91 375.79 395.01 376.91 394.09 C378.03 393.17 378.93 392.39 380.00 391.28 C381.07 390.17 382.20 388.71 383.31 387.42 C384.41 386.14 385.51 384.85 386.61 383.57 C387.71 382.28 388.82 381.00 389.92 379.71 C391.02 378.43 392.12 377.05 393.22 375.85 C394.33 374.66 395.43 373.74 396.53 372.55 C397.63 371.35 398.73 369.98 399.83 368.69 C400.94 367.41 402.04 366.12 403.14 364.83 C404.24 363.55 405.34 362.26 406.45 360.98 C407.55 359.69 408.65 358.50 409.75 357.12 C410.85 355.74 411.80 354.73 413.06 352.71 C414.31 350.70 415.28 348.60 417.27 345.03 C419.26 341.46 422.98 334.86 425.00 331.28 C427.02 327.70 427.94 325.77 429.41 323.57 C430.88 321.36 432.35 319.80 433.82 318.06 C435.28 316.31 436.75 314.57 438.22 313.10 C439.69 311.63 441.16 310.53 442.63 309.24 C444.10 307.96 445.57 306.67 447.04 305.39 C448.51 304.10 449.98 302.72 451.45 301.53 C452.92 300.34 454.38 299.42 455.85 298.22 C457.32 297.03 458.74 295.47 460.26 294.37 C461.79 293.26 463.36 292.69 465.00 291.61 C466.64 290.54 468.08 288.83 470.11 287.92 C472.14 287.01 474.81 286.74 477.16 286.16 C479.52 285.57 481.87 284.77 484.22 284.39 C486.57 284.01 488.92 283.95 491.27 283.86 C493.62 283.77 495.98 283.77 498.33 283.86 C500.68 283.95 503.03 284.16 505.38 284.39 C507.73 284.63 510.09 284.98 512.44 285.27 C514.79 285.57 517.14 285.63 519.49 286.16 C521.84 286.68 524.20 288.24 526.55 288.45 C528.90 288.65 531.69 287.39 533.60 287.39 C535.51 287.39 537.28 288.27 538.01 288.45"/>
</g>
<g stroke="#1a1a1a" stroke-width="1.35" fill="none">
<path d="M306.3 240.9 V422.6 H537.7"/>
<path d="M303.7 422.6 H306.3"/>
<path d="M303.7 392.3 H306.3"/>
<path d="M303.7 362.0 H306.3"/>
<path d="M303.7 331.8 H306.3"/>
<path d="M303.7 301.5 H306.3"/>
<path d="M303.7 271.2 H306.3"/>
<path d="M303.7 240.9 H306.3"/>
<path d="M306.3 422.6 V425.2"/>
<path d="M329.4 422.6 V425.2"/>
<path d="M352.6 422.6 V425.2"/>
<path d="M375.7 422.6 V425.2"/>
<path d="M398.9 422.6 V425.2"/>
<path d="M422.0 422.6 V425.2"/>
<path d="M445.1 422.6 V425.2"/>
<path d="M468.3 422.6 V425.2"/>
<path d="M491.4 422.6 V425.2"/>
<path d="M514.6 422.6 V425.2"/>
<path d="M537.7 422.6 V425.2"/>
</g>
<g font-size="8.1" fill="#000" stroke="#000" stroke-width="0.15" text-anchor="end">
<text x="301.3" y="424.8">0</text>
<text x="301.3" y="394.5">0.2</text>
<text x="301.3" y="364.2">0.4</text>
<text x="301.3" y="333.9">0.6</text>
<text x="301.3" y="303.6">0.8</text>
<text x="301.3" y="273.3">1</text>
<text x="301.3" y="243.0">1.2</text>
</g>
<g font-size="8.1" fill="#000" stroke="#000" stroke-width="0.15" text-anchor="middle">
<text x="307.3" y="434.8">0</text>
<text x="330.4" y="434.8">2</text>
<text x="353.6" y="434.8">4</text>
<text x="376.7" y="434.8">6</text>
<text x="399.9" y="434.8">8</text>
<text x="423.0" y="434.8">10</text>
<text x="446.1" y="434.8">12</text>
<text x="469.3" y="434.8">14</text>
<text x="492.4" y="434.8">16</text>
<text x="515.6" y="434.8">18</text>
<text x="538.7" y="434.8">20</text>
</g>
<text x="428.9" y="446.3" font-size="8.9" fill="#111" stroke="#111" stroke-width="0.08" text-anchor="middle">Time [h]</text>
<text transform="translate(286.2 331.8) rotate(-90)" font-size="8.40" fill="#111" stroke="#111" stroke-width="0.1" text-anchor="middle">OD<tspan font-size="5.29" dy="0.42">600</tspan></text>
<text transform="translate(275.0 243.3) scale(1 1.03)" font-size="17.2" fill="#111" stroke="#111" stroke-width="0.25">D</text>
<text x="309.4" y="248.6" font-size="11.4" fill="#111" stroke="#111" stroke-width="0.15"><tspan font-style="italic">P. aeruginosa</tspan> PAO1161 Δ<tspan font-style="italic">PA3027</tspan></text>
<g font-size="7.4" fill="#111" stroke="#111" stroke-width="0.12">
<path d="M438.8 339.3 H451.2" stroke="#3ea3e2" stroke-width="2"/>
<text x="452.3" y="341.8">FLAG-PA3027 0 mM IPTG</text>
<path d="M438.8 352.1 H451.2" stroke="#ec1c24" stroke-width="2"/>
<text x="452.3" y="354.6">FLAG-PA3027 0.05 mM IPTG</text>
<path d="M438.8 364.8 H451.2" stroke="#17b04f" stroke-width="2"/>
<text x="452.3" y="367.3">FLAG-PA3027 0.1 mM IPTG</text>
<path d="M438.8 377.6 H451.2" stroke="#fdc20e" stroke-width="2"/>
<text x="452.3" y="380.1">FLAG-PA3027 0.2 mM IPTG</text>
<path d="M438.8 390.3 H451.2" stroke="#f5822f" stroke-width="2"/>
<text x="452.3" y="392.8">FLAG-PA3027 0.5 mM IPTG</text>
<path d="M438.8 403.1 H451.2" stroke="#111111" stroke-width="2"/>
<text x="452.3" y="405.6">vector FLAG 0 mM IPTG</text>
<path d="M438.8 415.8 H451.2" stroke="#ababab" stroke-width="2"/>
<text x="452.3" y="418.3">vector FLAG 0.5</text>
</g>
</svg></body></html>
